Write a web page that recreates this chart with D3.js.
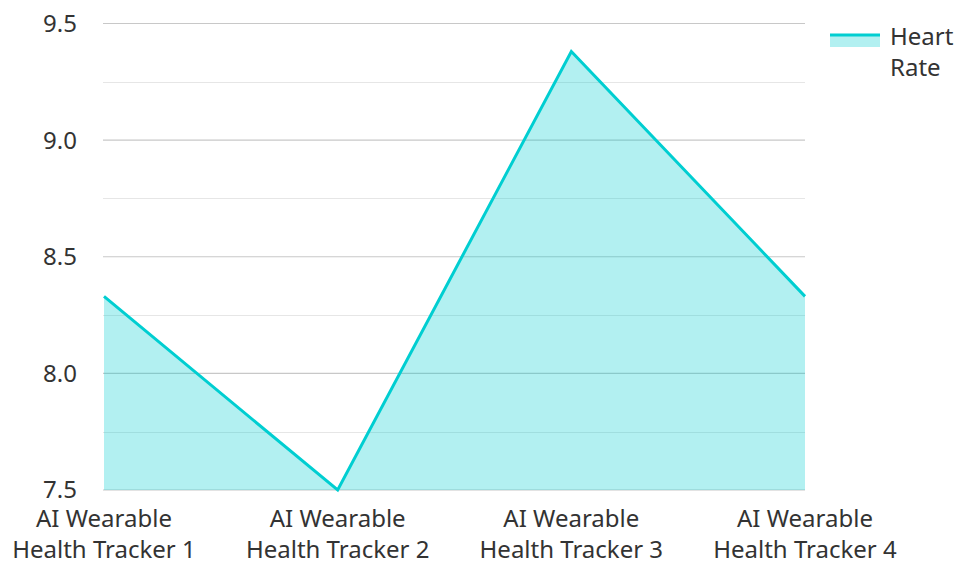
<!DOCTYPE html>
<html><head><meta charset="utf-8">
<script src="https://cdn.jsdelivr.net/npm/d3@7"></script>
<style>body{margin:0;background:#fff}text{font-family:"Noto Sans","Open Sans",sans-serif}</style>
</head><body><svg id="c" width="959" height="562"></svg>
<script>
const categories = ["AI Wearable Health Tracker 1","AI Wearable Health Tracker 2","AI Wearable Health Tracker 3","AI Wearable Health Tracker 4"];
const heartRate = [8.33, 7.5, 9.38, 8.33];
const majorTicks = [7.5, 8.0, 8.5, 9.0, 9.5];
const minorTicks = [7.75, 8.25, 8.75, 9.25];
const seriesName = "Heart Rate";

const svg = d3.select("#c");
const L = 104, R = 805, T = 23.5, B = 490;
const x = d3.scalePoint().domain(categories).range([L, R]).padding(0);
const y = d3.scaleLinear().domain([7.5, 9.5]).range([B, T]);
const color = "#00CED1";
const FS = 24;

const area = d3.area().x((d,i)=>x(categories[i])).y0(y(7.5)).y1(d=>y(d));
const line = d3.line().x((d,i)=>x(categories[i])).y(d=>y(d));

// grid
svg.append("g").selectAll("line").data(minorTicks).join("line")
  .attr("x1", L-1).attr("x2", R).attr("y1", d=>Math.round(y(d))+0.5).attr("y2", d=>Math.round(y(d))+0.5)
  .attr("stroke", "#e6e6e6").attr("stroke-width", 1);
svg.append("g").selectAll("line").data(majorTicks).join("line")
  .attr("x1", L-1).attr("x2", R).attr("y1", d=>y(d)).attr("y2", d=>y(d))
  .attr("stroke", "#c8c8c8").attr("stroke-width", 1.2);

svg.append("path").datum(heartRate).attr("d", area).attr("fill", color).attr("fill-opacity", 0.3);
svg.append("path").datum(heartRate).attr("d", line).attr("fill", "none").attr("stroke", color).attr("stroke-width", 3).attr("stroke-linejoin","miter");

// y labels
svg.append("g").selectAll("text").data(majorTicks).join("text")
  .attr("x", 77).attr("y", d=>y(d)).attr("dy", "0.35em").attr("text-anchor", "end")
  .attr("font-size", FS).attr("fill", "#333").text(d=>d.toFixed(1));

// x labels
const xl = svg.append("g").selectAll("text").data(categories).join("text")
  .attr("text-anchor", "middle").attr("font-size", FS).attr("fill", "#333");
xl.each(function(d){
  const m = d.match(/^(.*) (Health Tracker \d)$/);
  const t = d3.select(this);
  t.append("tspan").attr("x", x(d)).attr("y", 527).text(m[1]);
  t.append("tspan").attr("x", x(d)).attr("y", 558).text(m[2]);
});

// legend
svg.append("rect").attr("x", 830).attr("y", 34).attr("width", 50).attr("height", 13).attr("fill", color).attr("fill-opacity", 0.3);
svg.append("line").attr("x1", 830).attr("x2", 880).attr("y1", 35).attr("y2", 35).attr("stroke", color).attr("stroke-width", 3);
const lt = svg.append("text").attr("font-size", FS).attr("fill", "#333");
seriesName.split(" ").forEach((w,i)=>lt.append("tspan").attr("x", 890).attr("y", 45 + i*31).text(w));
</script></body></html>
